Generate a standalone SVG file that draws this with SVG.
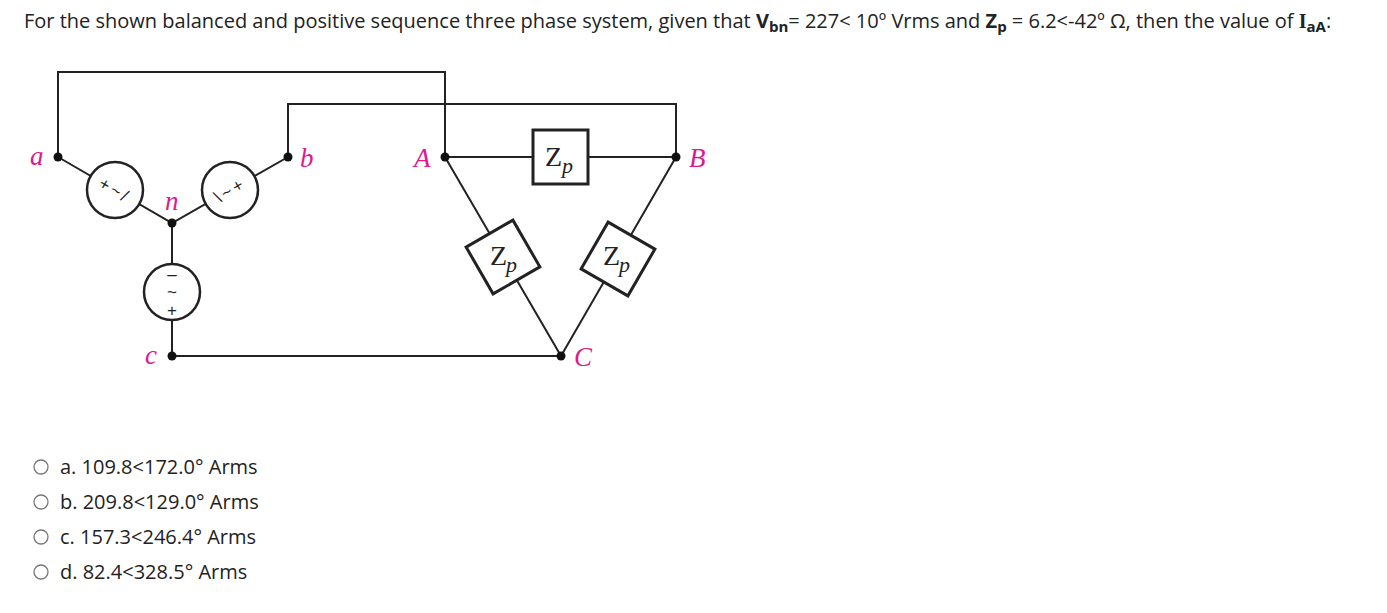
<svg xmlns="http://www.w3.org/2000/svg" width="1387" height="613" viewBox="0 0 1387 613">
<style>
.t{font-family:"Open Sans",sans-serif;font-size:20px;fill:#222}
.w{stroke:#222;stroke-width:2;fill:none}
.box{stroke:#222;stroke-width:3;fill:#fff}
.src{stroke:#222;stroke-width:2.5;fill:#fff}
.lbl{font-family:"Liberation Serif",serif;font-style:italic;font-size:27px;fill:#e0198c}
.z{font-family:"Liberation Serif",serif;font-size:28px;fill:#222}
.zs{font-family:"Liberation Serif",serif;font-style:italic;font-size:22px;fill:#222}
.sg{font-family:"Liberation Sans",sans-serif;font-size:17px;fill:#222}
.r{stroke:#777;stroke-width:1.3;fill:#fff}
</style>
<rect width="1387" height="613" fill="#fff"/>
<text class="t" x="24" y="28">For the shown balanced and positive sequence three phase system, given that <tspan font-weight="bold">V</tspan><tspan font-weight="bold" font-size="15" dy="4">bn</tspan><tspan dy="-4">= 227&lt; 10º Vrms and </tspan><tspan font-weight="bold">Z</tspan><tspan font-weight="bold" font-size="15" dy="4">p</tspan><tspan dy="-4"> = 6.2&lt;-42º Ω, then the value of </tspan><tspan font-weight="bold" font-family="Liberation Serif">I</tspan><tspan font-weight="bold" font-size="15" dy="4">aA</tspan><tspan dy="-4">:</tspan></text>
<g id="connectors">
<path class="w" d="M58,157 V72 H445 V157 M288,157 V104 H676 V157 M172,356 H561 M58,157 L172,223 L288,157 M172,223 V356 M445,157 H676 M445,157 L561,356 L676,157"/>
</g>
<g id="src-a"><circle class="src" cx="115" cy="190" r="28"/><text class="sg" transform="translate(115,190) rotate(30)" text-anchor="middle" y="6" letter-spacing="3">+~/</text></g>
<g id="src-b"><circle class="src" cx="230" cy="190" r="28"/><text class="sg" transform="translate(230,190) rotate(-30)" text-anchor="middle" y="6" letter-spacing="3">\~+</text></g>
<g id="src-c"><circle class="src" cx="172" cy="292" r="28"/><text class="sg" x="172" y="280" text-anchor="middle">–</text><text class="sg" x="172" y="298" text-anchor="middle">~</text><text class="sg" x="172" y="316" text-anchor="middle">+</text></g>
<g id="zab"><rect class="box" x="533" y="130" width="55" height="54"/><text class="z" x="545" y="166">Z</text><text class="zs" x="562" y="173">p</text></g>
<g id="zca"><rect class="box" x="-27" y="-27" width="54" height="54" transform="translate(503,257) rotate(-30)"/><text class="z" x="490" y="265">Z</text><text class="zs" x="506" y="272">p</text></g>
<g id="zbc"><rect class="box" x="-27" y="-27" width="54" height="54" transform="translate(618,259) rotate(30)"/><text class="z" x="603" y="265">Z</text><text class="zs" x="619" y="272">p</text></g>
<g id="dots" fill="#111">
<circle cx="58" cy="157" r="4.5"/><circle cx="288" cy="157" r="4.5"/><circle cx="172" cy="223" r="4.5"/><circle cx="172" cy="356" r="4.5"/><circle cx="445" cy="157" r="4.5"/><circle cx="676" cy="157" r="4.5"/><circle cx="561" cy="356" r="4.5"/>
</g>
<text class="lbl" x="30" y="165">a</text><text class="lbl" x="300" y="167">b</text><text class="lbl" x="165" y="210">n</text><text class="lbl" x="145" y="364">c</text>
<text class="lbl" x="414" y="167">A</text><text class="lbl" x="689" y="167">B</text><text class="lbl" x="574" y="366">C</text>
<g id="opts">
<circle class="r" cx="41" cy="467" r="7"/><text class="t" x="60" y="474">a. 109.8&lt;172.0° Arms</text>
<circle class="r" cx="41" cy="502" r="7"/><text class="t" x="60" y="509">b. 209.8&lt;129.0° Arms</text>
<circle class="r" cx="41" cy="537" r="7"/><text class="t" x="60" y="544">c. 157.3&lt;246.4° Arms</text>
<circle class="r" cx="41" cy="572" r="7"/><text class="t" x="60" y="579">d. 82.4&lt;328.5° Arms</text>
</g>
</svg>
